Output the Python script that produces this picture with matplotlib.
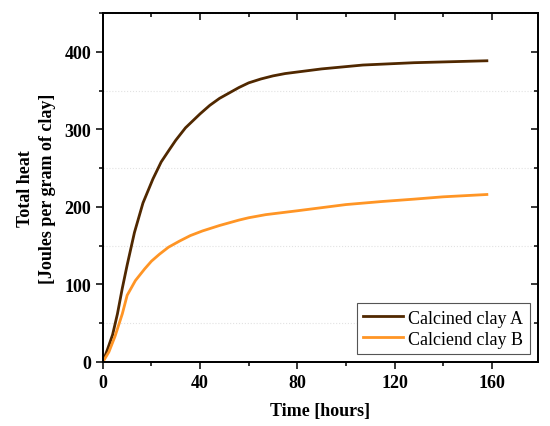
import matplotlib.pyplot as plt
from matplotlib.ticker import MultipleLocator

# values
t_a = [0, 2, 4, 6, 8, 10, 13, 16.5, 20.6, 24, 27.4, 30, 34, 37, 40, 44, 48, 52, 56,
       60, 65, 70, 75, 80, 90, 107, 128, 158]
heat_a = [0, 17, 35, 62, 95, 125, 167, 205, 236, 258, 274, 286, 302, 311, 320, 331, 340,
          347, 354, 360, 365, 369, 372, 374, 378, 383, 386, 388.5]

t_b = [0, 2.5, 5, 8, 10, 13.4, 17.2, 20, 23.3, 27, 31.6, 36, 41, 48, 56, 60, 67, 80, 90,
       100, 115, 128, 140, 158]
heat_b = [0, 13, 33, 62, 86, 105, 120, 130, 139, 148, 156, 163, 169, 176, 183, 186, 190,
          195, 199, 203, 207, 210, 213, 216]

labels = ['Calcined clay A', 'Calciend clay B']
colors = ['#502800', '#ff9525']

plt.rcParams['font.family'] = ['Liberation Serif', 'DejaVu Serif']

fig = plt.figure(figsize=(5.5, 4.27), dpi=100)
ax = fig.add_axes([0.187, 0.15, 0.791, 0.817])

ax.plot(t_a, heat_a, color=colors[0], lw=2.0, label=labels[0])
ax.plot(t_b, heat_b, color=colors[1], lw=2.0, label=labels[1])

xlim = (0, 179)
ylim = (0, 450)
ax.set_xlim(*xlim)
ax.set_ylim(*ylim)
ax.xaxis.set_major_locator(MultipleLocator(40))
ax.xaxis.set_minor_locator(MultipleLocator(20))
ax.yaxis.set_major_locator(MultipleLocator(100))
ax.yaxis.set_minor_locator(MultipleLocator(50))

ax.tick_params(which='both', direction='out', width=1.1, top=False, right=False,
               labelsize=13)
ax.tick_params(which='major', length=5)
ax.tick_params(which='minor', length=3)
for lab in ax.get_xticklabels() + ax.get_yticklabels():
    lab.set_fontweight('bold')

# mirrored inward ticks on top and right
ax_t = ax.twiny()
ax_t.set_xlim(*xlim)
ax_t.xaxis.set_major_locator(MultipleLocator(40))
ax_t.xaxis.set_minor_locator(MultipleLocator(20))
ax_t.tick_params(which='both', direction='in', labeltop=False, width=1.1)
ax_t.tick_params(which='major', length=5)
ax_t.tick_params(which='minor', length=3)
ax_r = ax.twinx()
ax_r.set_ylim(*ylim)
ax_r.yaxis.set_major_locator(MultipleLocator(100))
ax_r.yaxis.set_minor_locator(MultipleLocator(50))
ax_r.tick_params(which='both', direction='in', labelright=False, width=1.1)
ax_r.tick_params(which='major', length=5)
ax_r.tick_params(which='minor', length=3)

ax.grid(which='minor', axis='y', color='#e2e2e2', ls=':', lw=0.8)
for a in (ax, ax_t, ax_r):
    for s in a.spines.values():
        s.set_linewidth(1.1)

ax.set_xlabel('Time [hours]', fontsize=13, fontweight='bold', labelpad=8)
ax.set_ylabel('Total heat\n[Joules per gram of clay]', fontsize=13,
              fontweight='bold', labelpad=6, linespacing=1.35)

leg = ax_r.legend(*ax.get_legend_handles_labels(), loc='lower right', fontsize=13,
                  fancybox=False, framealpha=1, edgecolor='#555555', borderpad=0.35,
                  handlelength=2.2, handletextpad=0.3, labelspacing=0.22,
                  borderaxespad=0.45)
leg.get_frame().set_linewidth(0.8)

fig.savefig('out.png', dpi=100)
